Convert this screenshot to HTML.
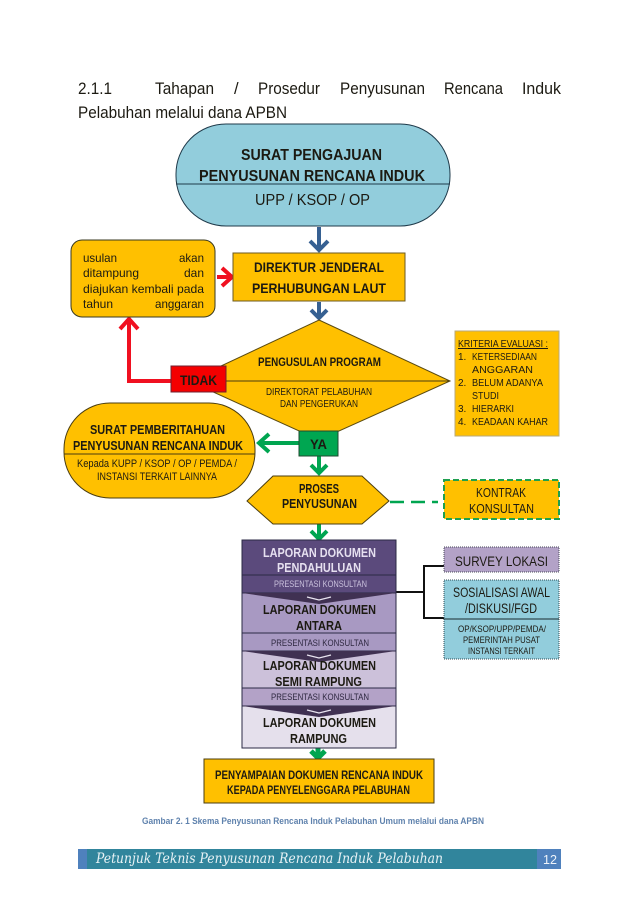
<!DOCTYPE html>
<html><head><meta charset="utf-8"><style>
html,body{margin:0;padding:0;background:#fff;width:638px;height:902px;overflow:hidden}
svg{display:block;filter:blur(0.3px)}
text{font-family:"Liberation Sans",sans-serif;fill:#1c1a12}
</style></head><body>
<svg xmlns="http://www.w3.org/2000/svg" width="638" height="902" viewBox="0 0 638 902">
<rect width="638" height="902" fill="#fff"/>
<!-- heading -->
<g font-size="16.5">
<text x="78" y="94" textLength="34" lengthAdjust="spacingAndGlyphs">2.1.1</text>
<text x="155" y="94" textLength="59" lengthAdjust="spacingAndGlyphs">Tahapan</text>
<text x="234" y="94">/</text>
<text x="258" y="94" textLength="62" lengthAdjust="spacingAndGlyphs">Prosedur</text>
<text x="340" y="94" textLength="85" lengthAdjust="spacingAndGlyphs">Penyusunan</text>
<text x="444" y="94" textLength="59" lengthAdjust="spacingAndGlyphs">Rencana</text>
<text x="522" y="94" textLength="39" lengthAdjust="spacingAndGlyphs">Induk</text>
<text x="78" y="118" textLength="209" lengthAdjust="spacingAndGlyphs">Pelabuhan melalui dana APBN</text>
</g>

<!-- arrows -->
<g fill="none" stroke-width="4">
<path d="M319 227V249M310 241L319 250L328 241" stroke="#366092"/>
<path d="M319 302V318M311 310L319 318L327 310" stroke="#366092"/>
<path d="M217 277H232M222 268L232 277L222 286" stroke="#f01020"/>
<path d="M171 381H129V320M120 329L129 319L138 329" stroke="#f01020"/>
<path d="M299 443H259M269 434L259 443L269 452" stroke="#00a550"/>
<path d="M319 456V473M311 465L319 473L327 465" stroke="#00a550"/>
<path d="M319 524V539M311 531L319 539L327 531" stroke="#00a550"/>
<path d="M318 748V758M311 751L318 758L325 751" stroke="#00a550" stroke-width="5"/>
<path d="M390 502H438" stroke="#00a550" stroke-width="2.5" stroke-dasharray="14 7"/>
<path d="M396 592H424M444 566H424V618H444" stroke="#111" stroke-width="2"/>
</g>

<!-- top stadium -->
<rect x="176" y="124" width="274" height="102" rx="50" fill="#92cddc" stroke="#1f3a4a" stroke-width="1"/>
<path d="M176 184H450" stroke="#1f3a4a" stroke-width="1"/>
<g font-weight="bold" font-size="16">
<text x="241" y="160" textLength="141" lengthAdjust="spacingAndGlyphs">SURAT PENGAJUAN</text>
<text x="199" y="181" textLength="226" lengthAdjust="spacingAndGlyphs">PENYUSUNAN RENCANA INDUK</text>
</g>
<text x="255" y="205" font-size="16" textLength="115" lengthAdjust="spacingAndGlyphs">UPP / KSOP / OP</text>

<!-- usulan -->
<rect x="71" y="240" width="144" height="77" rx="11" fill="#ffc000" stroke="#3a3a20" stroke-width="1"/>
<g font-size="12">
<text x="83" y="262" textLength="34" lengthAdjust="spacingAndGlyphs">usulan</text>
<text x="179" y="262" textLength="25" lengthAdjust="spacingAndGlyphs">akan</text>
<text x="83" y="277" textLength="56" lengthAdjust="spacingAndGlyphs">ditampung</text>
<text x="184" y="277" textLength="20" lengthAdjust="spacingAndGlyphs">dan</text>
<text x="83" y="293" textLength="121" lengthAdjust="spacingAndGlyphs">diajukan kembali pada</text>
<text x="83" y="308" textLength="30" lengthAdjust="spacingAndGlyphs">tahun</text>
<text x="155" y="308" textLength="49" lengthAdjust="spacingAndGlyphs">anggaran</text>
</g>

<!-- direktur -->
<rect x="233" y="253" width="172" height="48" fill="#ffc000" stroke="#6b5a20" stroke-width="1"/>
<g font-weight="bold" font-size="14">
<text x="254" y="272" textLength="130" lengthAdjust="spacingAndGlyphs">DIREKTUR JENDERAL</text>
<text x="252" y="293" textLength="134" lengthAdjust="spacingAndGlyphs">PERHUBUNGAN LAUT</text>
</g>

<!-- diamond -->
<polygon points="319,320 450,381 319,440 189,381" fill="#ffc000" stroke="#5a4a10" stroke-width="1"/>
<path d="M226 381H449" stroke="#4a3d10" stroke-width="1"/>
<text x="258" y="366" font-weight="bold" font-size="12" textLength="123" lengthAdjust="spacingAndGlyphs">PENGUSULAN PROGRAM</text>
<g font-size="10.5">
<text x="266" y="395" textLength="106" lengthAdjust="spacingAndGlyphs">DIREKTORAT PELABUHAN</text>
<text x="280" y="407" textLength="78" lengthAdjust="spacingAndGlyphs">DAN PENGERUKAN</text>
</g>

<!-- tidak -->
<rect x="171" y="366" width="55" height="26" fill="#f40000" stroke="#702030" stroke-width="1"/>
<text x="180" y="385" font-weight="bold" font-size="14" textLength="37" lengthAdjust="spacingAndGlyphs">TIDAK</text>

<!-- kriteria -->
<rect x="455" y="331" width="104" height="105" fill="#ffc000" stroke="#b9a97a" stroke-width="1"/>
<g font-size="10">
<text x="458" y="347" text-decoration="underline" textLength="90" lengthAdjust="spacingAndGlyphs">KRITERIA EVALUASI :</text>
<text x="458" y="360">1.</text><text x="472" y="360" textLength="65" lengthAdjust="spacingAndGlyphs">KETERSEDIAAN</text>
<text x="472" y="373" textLength="61" lengthAdjust="spacingAndGlyphs">ANGGARAN</text>
<text x="458" y="386">2.</text><text x="472" y="386" textLength="71" lengthAdjust="spacingAndGlyphs">BELUM ADANYA</text>
<text x="472" y="399" textLength="27" lengthAdjust="spacingAndGlyphs">STUDI</text>
<text x="458" y="412">3.</text><text x="472" y="412" textLength="42" lengthAdjust="spacingAndGlyphs">HIERARKI</text>
<text x="458" y="425">4.</text><text x="472" y="425" textLength="76" lengthAdjust="spacingAndGlyphs">KEADAAN KAHAR</text>
</g>

<!-- surat pemberitahuan -->
<rect x="64" y="403" width="191" height="95" rx="46" fill="#ffc000" stroke="#4a3d10" stroke-width="1"/>
<path d="M64 454H255" stroke="#4a3d10" stroke-width="1"/>
<g font-weight="bold" font-size="12.5">
<text x="90" y="434" textLength="135" lengthAdjust="spacingAndGlyphs">SURAT PEMBERITAHUAN</text>
<text x="73" y="450" textLength="170" lengthAdjust="spacingAndGlyphs">PENYUSUNAN RENCANA INDUK</text>
</g>
<g font-size="11">
<text x="77" y="467" textLength="160" lengthAdjust="spacingAndGlyphs">Kepada KUPP / KSOP / OP / PEMDA /</text>
<text x="97" y="480" textLength="120" lengthAdjust="spacingAndGlyphs">INSTANSI TERKAIT LAINNYA</text>
</g>

<!-- ya -->
<rect x="299" y="431" width="39" height="25" fill="#00a651" stroke="#1f4a30" stroke-width="1"/>
<text x="310" y="449" font-weight="bold" font-size="14" textLength="17" lengthAdjust="spacingAndGlyphs">YA</text>

<!-- proses -->
<polygon points="247,501 273,476 362,476 389,501 362,524 273,524" fill="#ffc000" stroke="#4a3d10" stroke-width="1"/>
<g font-weight="bold" font-size="12.5">
<text x="299" y="493" textLength="40" lengthAdjust="spacingAndGlyphs">PROSES</text>
<text x="282" y="508" textLength="75" lengthAdjust="spacingAndGlyphs">PENYUSUNAN</text>
</g>

<!-- kontrak -->
<rect x="444" y="480" width="115" height="39" fill="#ffc000" stroke="#1fa050" stroke-width="2" stroke-dasharray="6 3"/>
<g font-size="13">
<text x="476" y="497" textLength="50" lengthAdjust="spacingAndGlyphs">KONTRAK</text>
<text x="469" y="513" textLength="65" lengthAdjust="spacingAndGlyphs">KONSULTAN</text>
</g>

<!-- stack -->
<g stroke="#2b2a45" stroke-width="1">
<rect x="242" y="706" width="154" height="42" fill="#e5e0ec"/>
<rect x="242" y="651" width="154" height="37" fill="#ccc1da"/>
<rect x="242" y="688" width="154" height="18" fill="#b3a2c7"/>
<rect x="242" y="593" width="154" height="40" fill="#a899c2"/>
<rect x="242" y="633" width="154" height="18" fill="#a899c2"/>
<rect x="242" y="540" width="154" height="35" fill="#5b4a7c"/>
<rect x="242" y="575" width="154" height="18" fill="#5b4a7c"/>
</g>
<polygon points="242,593 396,593 319,604" fill="#403152"/>
<polygon points="242,651 396,651 319,662" fill="#403152"/>
<polygon points="242,706 396,706 319,717" fill="#403152"/>
<g fill="none" stroke="#e8e4f0" stroke-width="1.3">
<path d="M307 597L319 600L331 597"/>
<path d="M307 655L319 658L331 655"/>
<path d="M307 710L319 713L331 710"/>
</g>
<g font-weight="bold" font-size="12.5">
<text x="263" y="557" textLength="113" lengthAdjust="spacingAndGlyphs" style="fill:#e6e0f0">LAPORAN DOKUMEN</text>
<text x="277" y="572" textLength="84" lengthAdjust="spacingAndGlyphs" style="fill:#e6e0f0">PENDAHULUAN</text>
<text x="263" y="614" textLength="113" lengthAdjust="spacingAndGlyphs">LAPORAN DOKUMEN</text>
<text x="296" y="630" textLength="46" lengthAdjust="spacingAndGlyphs">ANTARA</text>
<text x="263" y="670" textLength="113" lengthAdjust="spacingAndGlyphs">LAPORAN DOKUMEN</text>
<text x="275" y="686" textLength="87" lengthAdjust="spacingAndGlyphs">SEMI RAMPUNG</text>
<text x="263" y="727" textLength="113" lengthAdjust="spacingAndGlyphs">LAPORAN DOKUMEN</text>
<text x="290" y="743" textLength="57" lengthAdjust="spacingAndGlyphs">RAMPUNG</text>
</g>
<g font-size="9.5">
<text x="274" y="587" textLength="93" lengthAdjust="spacingAndGlyphs" style="fill:#c9c0dc">PRESENTASI KONSULTAN</text>
<text x="271" y="646" textLength="98" lengthAdjust="spacingAndGlyphs" style="fill:#2e2840">PRESENTASI KONSULTAN</text>
<text x="271" y="700" textLength="98" lengthAdjust="spacingAndGlyphs" style="fill:#2e2840">PRESENTASI KONSULTAN</text>
</g>

<!-- survey -->
<rect x="444" y="547" width="115" height="25" fill="#b3a2c7" stroke="#4a4a5a" stroke-width="1" stroke-dasharray="1 1"/>
<text x="455" y="566" font-size="14" textLength="93" lengthAdjust="spacingAndGlyphs">SURVEY LOKASI</text>
<rect x="444" y="580" width="115" height="79" fill="#92cddc" stroke="#2f4a55" stroke-width="1" stroke-dasharray="1 1"/>
<path d="M444 619H559" stroke="#1a2a30" stroke-width="1"/>
<g font-size="13.5">
<text x="453" y="597" textLength="97" lengthAdjust="spacingAndGlyphs">SOSIALISASI AWAL</text>
<text x="465" y="613" textLength="72" lengthAdjust="spacingAndGlyphs">/DISKUSI/FGD</text>
</g>
<g font-size="9.5">
<text x="458" y="632" textLength="88" lengthAdjust="spacingAndGlyphs">OP/KSOP/UPP/PEMDA/</text>
<text x="463" y="643" textLength="77" lengthAdjust="spacingAndGlyphs">PEMERINTAH PUSAT</text>
<text x="468" y="654" textLength="67" lengthAdjust="spacingAndGlyphs">INSTANSI TERKAIT</text>
</g>

<!-- penyampaian -->
<rect x="204" y="759" width="230" height="44" fill="#ffc000" stroke="#4a3d10" stroke-width="1"/>
<g font-weight="bold" font-size="11.5">
<text x="215" y="779" textLength="208" lengthAdjust="spacingAndGlyphs">PENYAMPAIAN DOKUMEN RENCANA INDUK</text>
<text x="227" y="794" textLength="183" lengthAdjust="spacingAndGlyphs">KEPADA PENYELENGGARA PELABUHAN</text>
</g>

<!-- caption -->
<text x="142" y="824" font-weight="bold" font-size="9.5" textLength="342" lengthAdjust="spacingAndGlyphs" style="fill:#5f82ad">Gambar 2. 1 Skema Penyusunan Rencana Induk Pelabuhan Umum melalui dana APBN</text>

<!-- footer -->
<rect x="78" y="849" width="483" height="20" fill="#31859c"/>
<rect x="78" y="849" width="9" height="20" fill="#4f81bd"/>
<rect x="537" y="849" width="24" height="20" fill="#4f81bd"/>
<text x="96" y="863" font-size="14" font-style="italic" textLength="347" lengthAdjust="spacingAndGlyphs" style="font-family:'DejaVu Serif','Liberation Serif',serif;fill:#e8f2f5">Petunjuk Teknis Penyusunan Rencana Induk Pelabuhan</text>
<text x="543" y="864" font-size="13" textLength="14" lengthAdjust="spacingAndGlyphs" style="fill:#eef3fa">12</text>
</svg>
</body></html>
